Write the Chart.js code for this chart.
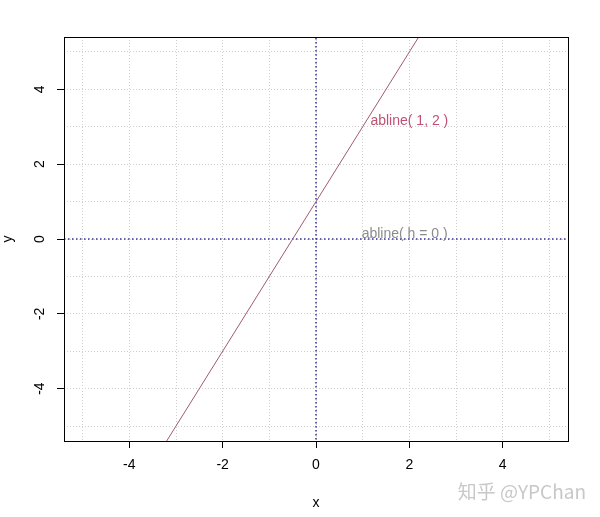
<!DOCTYPE html>
<html>
<head>
<meta charset="utf-8">
<script src="https://cdn.jsdelivr.net/npm/chart.js@4.4.0/dist/chart.umd.min.js"></script>
<style>
    body { margin: 0; background: #fff; }
</style>
</head>
<body>
<canvas id="my-chart" width="600" height="517"></canvas>
<script>

// axis range and labelled ticks
let axisMin = -5.4;
let axisMax = 5.4;
let tickValues = [-4, -2, 0, 2, 4];

// abline(1, 2)
let slopeLineX = [-6, 6];
let slopeLineY = [-11, 13];

// abline(h = 0) and abline(v = 0)
let hLineX = [-6, 6];
let hLineY = [0, 0];
let vLineX = [0, 0];
let vLineY = [-6, 6];

// text labels
let labelTexts = ['abline( 1, 2 )', 'abline( h = 0 )'];
let labelX = [2, 1.9];
let labelY = [3.15, 0.14];
let labelColors = ['#bf5274', '#8c8c8c'];

function toPoints(xs, ys) {
    let pts = [];
    for (let i = 0; i < xs.length; i++) {
        pts.push({ x: xs[i], y: ys[i] });
    }
    return pts;
}

// draw the box, the text labels and the watermark
const extrasPlugin = {
    id: 'extras',
    afterDatasetsDraw(chart) {
        let ctx = chart.ctx;
        let area = chart.chartArea;
        let xs = chart.scales.x;
        let ys = chart.scales.y;

        ctx.save();
        ctx.font = '14px "Liberation Sans", Arial, sans-serif';
        ctx.textAlign = 'center';
        ctx.textBaseline = 'middle';
        for (let i = 0; i < labelTexts.length; i++) {
            ctx.fillStyle = labelColors[i];
            ctx.fillText(labelTexts[i], xs.getPixelForValue(labelX[i]), ys.getPixelForValue(labelY[i]));
        }

        ctx.strokeStyle = '#000';
        ctx.lineWidth = 1;
        ctx.strokeRect(Math.round(area.left) + 0.5, Math.round(area.top) + 0.5,
            Math.round(area.right - area.left), Math.round(area.bottom - area.top));

        ctx.font = '19px "Noto Sans CJK SC", sans-serif';
        ctx.fillStyle = '#c8c8c8';
        ctx.textAlign = 'right';
        ctx.fillText('知乎 @YPChan', 586, 492);
        ctx.restore();
    }
};

function gridOptions() {
    return {
        color: '#cfcfcf',
        lineWidth: 1,
        drawTicks: true,
        tickLength: 7,
        tickColor: (c) => tickValues.includes(c.tick.value) ? '#000' : 'rgba(0,0,0,0)',
        tickBorderDash: [],
        tickWidth: 1
    };
}

let ctx = document.getElementById('my-chart').getContext('2d');
let ablineChart = new Chart(ctx, {
    type: 'scatter',
    data: {
        datasets: [{
            data: toPoints(slopeLineX, slopeLineY),
            showLine: true,
            borderColor: '#a05a70',
            borderWidth: 1,
            pointRadius: 0
        }, {
            data: toPoints(hLineX, hLineY),
            showLine: true,
            borderColor: '#33338a',
            borderWidth: 1.5,
            borderDash: [1.5, 2.5],
            pointRadius: 0
        }, {
            data: toPoints(vLineX, vLineY),
            showLine: true,
            borderColor: '#33338a',
            borderWidth: 1.5,
            borderDash: [1.5, 2.5],
            pointRadius: 0
        }]
    },
    options: {
        responsive: false,
        animation: false,
        devicePixelRatio: 1,
        layout: { padding: { left: 0, top: 37, right: 32, bottom: 0 } },
        plugins: {
            legend: { display: false },
            tooltip: { enabled: false }
        },
        scales: {
            x: {
                type: 'linear',
                min: axisMin,
                max: axisMax,
                grid: gridOptions(),
                border: { display: false, dash: [1, 2] },
                ticks: {
                    stepSize: 1,
                    includeBounds: false,
                    autoSkip: false,
                    maxRotation: 0,
                    padding: 9,
                    color: '#000',
                    font: { family: '"Liberation Sans", Arial, sans-serif', size: 14 },
                    callback: (v) => tickValues.includes(v) ? String(v) : ''
                },
                title: {
                    display: true,
                    text: 'x',
                    color: '#000',
                    padding: { top: 0, bottom: 5 },
                    font: { family: '"Liberation Sans", Arial, sans-serif', size: 14 }
                },
                afterFit: (scale) => { scale.height = 76; }
            },
            y: {
                type: 'linear',
                min: axisMin,
                max: axisMax,
                grid: gridOptions(),
                border: { display: false, dash: [1, 2] },
                ticks: {
                    stepSize: 1,
                    includeBounds: false,
                    autoSkip: false,
                    minRotation: 90,
                    maxRotation: 90,
                    crossAlign: 'center',
                    padding: 11,
                    color: '#000',
                    font: { family: '"Liberation Sans", Arial, sans-serif', size: 14 },
                    callback: (v) => tickValues.includes(v) ? String(v) : ''
                },
                title: {
                    display: true,
                    text: 'y',
                    color: '#000',
                    padding: { top: 0, bottom: 0 },
                    font: { family: '"Liberation Sans", Arial, sans-serif', size: 14 }
                },
                afterFit: (scale) => { scale.width = 64; }
            }
        }
    },
    plugins: [extrasPlugin]
});

</script>
</body>
</html>
